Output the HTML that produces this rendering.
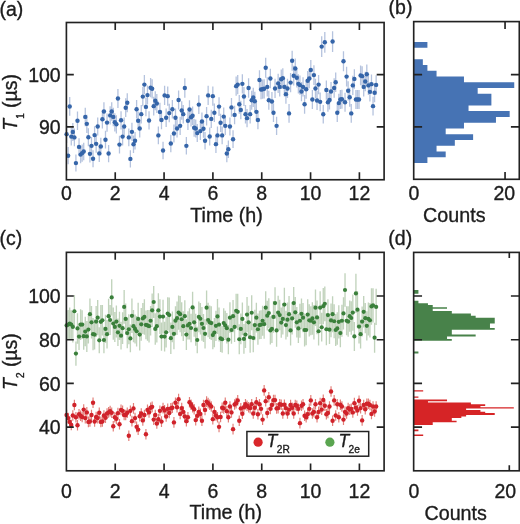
<!DOCTYPE html>
<html><head><meta charset="utf-8"><title>fig</title><style>html,body{margin:0;padding:0;background:#fff}svg{display:block}</style></head><body>
<svg width="520" height="524" viewBox="0 0 520 524" font-family="'Liberation Sans', Arial, sans-serif" fill="#222">
<style>text{stroke:#1c1c1c;stroke-width:0.35px;fill:#1c1c1c}</style>
<rect width="520" height="524" fill="#fff"/>
<g stroke="#b5c3de" stroke-width="1.3" stroke-linecap="butt">
<path d="M66.60 125.20v17.90M68.16 147.07v17.24M69.71 97.09v18.75M71.27 127.70v17.82M72.82 123.02v17.96M74.38 128.48v17.80M75.93 154.57v17.01M77.49 111.62v18.31M79.04 138.17v17.51M80.60 145.98v17.27M82.16 144.42v17.32M83.71 142.86v17.37M85.27 107.71v18.43M86.82 114.74v18.21M88.38 128.33v17.80M89.93 145.20v17.30M91.49 137.08v17.54M93.04 150.20v17.15M94.60 126.14v17.87M96.15 135.05v17.60M97.71 117.39v18.13M99.27 144.73v17.31M100.82 137.70v17.52M102.38 110.05v18.35M103.93 102.24v18.59M105.49 130.83v17.73M107.04 113.49v18.25M108.60 144.89v17.31M110.15 106.15v18.47M111.71 102.24v18.59M113.27 107.71v18.43M114.82 113.18v18.26M116.38 115.21v18.20M117.93 88.97v18.99M119.49 135.83v17.58M121.04 111.15v18.32M122.60 127.70v17.82M124.15 117.39v18.13M125.71 98.34v18.71M127.26 93.34v18.86M128.82 128.48v17.80M130.38 150.35v17.14M131.93 122.86v17.97M133.49 135.51v17.59M135.04 131.92v17.70M136.60 99.90v18.66M138.15 111.62v18.31M139.71 119.43v18.07M141.26 104.90v18.51M142.82 87.09v19.05M144.38 74.91v19.41M145.93 97.56v18.73M147.49 85.53v19.09M149.04 111.30v18.32M150.60 78.03v19.32M152.15 79.13v19.29M153.71 96.78v18.75M155.26 91.31v18.92M156.82 94.12v18.83M158.37 126.45v17.86M159.93 102.71v18.58M161.49 110.83v18.33M163.04 141.76v17.40M164.60 85.84v19.08M166.15 108.49v18.40M167.71 86.62v19.06M169.26 103.81v18.54M170.82 134.73v17.61M172.37 99.90v18.66M173.93 124.58v17.92M175.49 108.49v18.40M177.04 119.43v18.07M178.60 90.53v18.94M180.15 116.77v18.15M181.71 101.15v18.62M183.26 104.90v18.51M184.82 78.34v19.31M186.37 137.08v17.54M187.93 111.62v18.31M189.48 100.21v18.65M191.04 108.02v18.42M192.60 106.46v18.46M194.15 118.64v18.10M195.71 119.43v18.07M197.26 124.11v17.93M198.82 95.21v18.80M200.37 122.08v17.99M201.93 112.40v18.28M203.48 119.74v18.06M205.04 131.92v17.70M206.59 106.93v18.45M208.15 85.84v19.08M209.71 127.55v17.83M211.26 109.74v18.36M212.82 86.62v19.06M214.37 103.49v18.55M215.93 135.36v17.59M217.48 126.45v17.86M219.04 97.25v18.74M220.59 113.65v18.25M222.15 126.45v17.86M223.71 107.40v18.43M225.26 116.77v18.15M226.82 144.89v17.31M228.37 140.51v17.44M229.93 117.39v18.13M231.48 98.03v18.72M233.04 130.36v17.74M234.59 105.68v18.49M236.15 76.47v19.37M237.71 74.91v19.41M239.26 94.90v18.81M240.82 100.68v18.64M242.37 74.13v19.44M243.93 86.94v19.05M245.48 104.90v18.51M247.04 108.96v18.39M248.59 78.34v19.31M250.15 104.90v18.51M251.70 90.84v18.93M253.26 87.87v19.02M254.82 91.78v18.91M256.37 102.56v18.58M257.93 110.83v18.33M259.48 70.22v19.55M261.04 79.91v19.26M262.59 79.59v19.27M264.15 79.13v19.29M265.70 57.73v19.93M267.26 77.25v19.34M268.81 90.84v18.93M270.37 68.66v19.60M271.93 92.09v18.90M273.48 103.49v18.55M275.04 78.81v19.30M276.59 116.77v18.15M278.15 73.66v19.45M279.70 77.25v19.34M281.26 69.44v19.58M282.81 68.35v19.61M284.37 77.25v19.34M285.93 84.59v19.12M287.48 78.81v19.30M289.04 104.12v18.53M290.59 72.88v19.47M292.15 50.70v20.14M293.70 65.85v19.69M295.26 58.51v19.91M296.81 67.88v19.63M298.37 74.13v19.44M299.93 75.38v19.40M301.48 81.94v19.20M303.04 77.25v19.34M304.59 94.90v18.81M306.15 79.59v19.27M307.70 71.00v19.53M309.26 68.66v19.60M310.81 60.07v19.86M312.37 90.06v18.96M313.92 65.22v19.71M315.48 78.81v19.30M317.04 91.00v18.93M318.59 74.91v19.41M320.15 92.40v18.89M321.70 36.33v20.58M323.26 105.06v18.51M324.81 31.95v20.71M326.37 80.38v19.25M327.92 92.87v18.87M329.48 90.53v18.94M331.03 81.94v19.20M332.59 31.17v20.73M334.15 78.34v19.31M335.70 72.57v19.48M337.26 103.49v18.55M338.81 93.65v18.85M340.37 90.06v18.96M341.92 89.75v18.97M343.48 51.17v20.13M345.03 92.87v18.87M346.59 66.79v19.66M348.15 81.16v19.23M349.70 87.72v19.03M351.26 104.12v18.53M352.81 75.69v19.39M354.37 69.13v19.59M355.92 90.06v18.96M357.48 90.06v18.96M359.03 90.06v18.96M360.59 65.54v19.70M362.14 66.32v19.67M363.70 77.25v19.34M365.26 71.78v19.51M366.81 64.44v19.73M368.37 75.69v19.39M369.92 82.25v19.19M371.48 74.44v19.43M373.03 96.78v18.75M374.59 83.19v19.16M376.14 75.22v19.40" fill="none"/>
</g>
<g fill="#3565a9">
<circle cx="66.60" cy="134.15" r="2.2"/>
<circle cx="68.16" cy="155.69" r="2.2"/>
<circle cx="69.71" cy="106.46" r="2.2"/>
<circle cx="71.27" cy="136.62" r="2.2"/>
<circle cx="72.82" cy="132.00" r="2.2"/>
<circle cx="74.38" cy="137.38" r="2.2"/>
<circle cx="75.93" cy="163.08" r="2.2"/>
<circle cx="77.49" cy="120.77" r="2.2"/>
<circle cx="79.04" cy="146.92" r="2.2"/>
<circle cx="80.60" cy="154.62" r="2.2"/>
<circle cx="82.16" cy="153.08" r="2.2"/>
<circle cx="83.71" cy="151.54" r="2.2"/>
<circle cx="85.27" cy="116.92" r="2.2"/>
<circle cx="86.82" cy="123.85" r="2.2"/>
<circle cx="88.38" cy="137.23" r="2.2"/>
<circle cx="89.93" cy="153.85" r="2.2"/>
<circle cx="91.49" cy="145.85" r="2.2"/>
<circle cx="93.04" cy="158.77" r="2.2"/>
<circle cx="94.60" cy="135.08" r="2.2"/>
<circle cx="96.15" cy="143.85" r="2.2"/>
<circle cx="97.71" cy="126.46" r="2.2"/>
<circle cx="99.27" cy="153.38" r="2.2"/>
<circle cx="100.82" cy="146.46" r="2.2"/>
<circle cx="102.38" cy="119.23" r="2.2"/>
<circle cx="103.93" cy="111.54" r="2.2"/>
<circle cx="105.49" cy="139.69" r="2.2"/>
<circle cx="107.04" cy="122.62" r="2.2"/>
<circle cx="108.60" cy="153.54" r="2.2"/>
<circle cx="110.15" cy="115.38" r="2.2"/>
<circle cx="111.71" cy="111.54" r="2.2"/>
<circle cx="113.27" cy="116.92" r="2.2"/>
<circle cx="114.82" cy="122.31" r="2.2"/>
<circle cx="116.38" cy="124.31" r="2.2"/>
<circle cx="117.93" cy="98.46" r="2.2"/>
<circle cx="119.49" cy="144.62" r="2.2"/>
<circle cx="121.04" cy="120.31" r="2.2"/>
<circle cx="122.60" cy="136.62" r="2.2"/>
<circle cx="124.15" cy="126.46" r="2.2"/>
<circle cx="125.71" cy="107.69" r="2.2"/>
<circle cx="127.26" cy="102.77" r="2.2"/>
<circle cx="128.82" cy="137.38" r="2.2"/>
<circle cx="130.38" cy="158.92" r="2.2"/>
<circle cx="131.93" cy="131.85" r="2.2"/>
<circle cx="133.49" cy="144.31" r="2.2"/>
<circle cx="135.04" cy="140.77" r="2.2"/>
<circle cx="136.60" cy="109.23" r="2.2"/>
<circle cx="138.15" cy="120.77" r="2.2"/>
<circle cx="139.71" cy="128.46" r="2.2"/>
<circle cx="141.26" cy="114.15" r="2.2"/>
<circle cx="142.82" cy="96.62" r="2.2"/>
<circle cx="144.38" cy="84.62" r="2.2"/>
<circle cx="145.93" cy="106.92" r="2.2"/>
<circle cx="147.49" cy="95.08" r="2.2"/>
<circle cx="149.04" cy="120.46" r="2.2"/>
<circle cx="150.60" cy="87.69" r="2.2"/>
<circle cx="152.15" cy="88.77" r="2.2"/>
<circle cx="153.71" cy="106.15" r="2.2"/>
<circle cx="155.26" cy="100.77" r="2.2"/>
<circle cx="156.82" cy="103.54" r="2.2"/>
<circle cx="158.37" cy="135.38" r="2.2"/>
<circle cx="159.93" cy="112.00" r="2.2"/>
<circle cx="161.49" cy="120.00" r="2.2"/>
<circle cx="163.04" cy="150.46" r="2.2"/>
<circle cx="164.60" cy="95.38" r="2.2"/>
<circle cx="166.15" cy="117.69" r="2.2"/>
<circle cx="167.71" cy="96.15" r="2.2"/>
<circle cx="169.26" cy="113.08" r="2.2"/>
<circle cx="170.82" cy="143.54" r="2.2"/>
<circle cx="172.37" cy="109.23" r="2.2"/>
<circle cx="173.93" cy="133.54" r="2.2"/>
<circle cx="175.49" cy="117.69" r="2.2"/>
<circle cx="177.04" cy="128.46" r="2.2"/>
<circle cx="178.60" cy="100.00" r="2.2"/>
<circle cx="180.15" cy="125.85" r="2.2"/>
<circle cx="181.71" cy="110.46" r="2.2"/>
<circle cx="183.26" cy="114.15" r="2.2"/>
<circle cx="184.82" cy="88.00" r="2.2"/>
<circle cx="186.37" cy="145.85" r="2.2"/>
<circle cx="187.93" cy="120.77" r="2.2"/>
<circle cx="189.48" cy="109.54" r="2.2"/>
<circle cx="191.04" cy="117.23" r="2.2"/>
<circle cx="192.60" cy="115.69" r="2.2"/>
<circle cx="194.15" cy="127.69" r="2.2"/>
<circle cx="195.71" cy="128.46" r="2.2"/>
<circle cx="197.26" cy="133.08" r="2.2"/>
<circle cx="198.82" cy="104.62" r="2.2"/>
<circle cx="200.37" cy="131.08" r="2.2"/>
<circle cx="201.93" cy="121.54" r="2.2"/>
<circle cx="203.48" cy="128.77" r="2.2"/>
<circle cx="205.04" cy="140.77" r="2.2"/>
<circle cx="206.59" cy="116.15" r="2.2"/>
<circle cx="208.15" cy="95.38" r="2.2"/>
<circle cx="209.71" cy="136.46" r="2.2"/>
<circle cx="211.26" cy="118.92" r="2.2"/>
<circle cx="212.82" cy="96.15" r="2.2"/>
<circle cx="214.37" cy="112.77" r="2.2"/>
<circle cx="215.93" cy="144.15" r="2.2"/>
<circle cx="217.48" cy="135.38" r="2.2"/>
<circle cx="219.04" cy="106.62" r="2.2"/>
<circle cx="220.59" cy="122.77" r="2.2"/>
<circle cx="222.15" cy="135.38" r="2.2"/>
<circle cx="223.71" cy="116.62" r="2.2"/>
<circle cx="225.26" cy="125.85" r="2.2"/>
<circle cx="226.82" cy="153.54" r="2.2"/>
<circle cx="228.37" cy="149.23" r="2.2"/>
<circle cx="229.93" cy="126.46" r="2.2"/>
<circle cx="231.48" cy="107.38" r="2.2"/>
<circle cx="233.04" cy="139.23" r="2.2"/>
<circle cx="234.59" cy="114.92" r="2.2"/>
<circle cx="236.15" cy="86.15" r="2.2"/>
<circle cx="237.71" cy="84.62" r="2.2"/>
<circle cx="239.26" cy="104.31" r="2.2"/>
<circle cx="240.82" cy="110.00" r="2.2"/>
<circle cx="242.37" cy="83.85" r="2.2"/>
<circle cx="243.93" cy="96.46" r="2.2"/>
<circle cx="245.48" cy="114.15" r="2.2"/>
<circle cx="247.04" cy="118.15" r="2.2"/>
<circle cx="248.59" cy="88.00" r="2.2"/>
<circle cx="250.15" cy="114.15" r="2.2"/>
<circle cx="251.70" cy="100.31" r="2.2"/>
<circle cx="253.26" cy="97.38" r="2.2"/>
<circle cx="254.82" cy="101.23" r="2.2"/>
<circle cx="256.37" cy="111.85" r="2.2"/>
<circle cx="257.93" cy="120.00" r="2.2"/>
<circle cx="259.48" cy="80.00" r="2.2"/>
<circle cx="261.04" cy="89.54" r="2.2"/>
<circle cx="262.59" cy="89.23" r="2.2"/>
<circle cx="264.15" cy="88.77" r="2.2"/>
<circle cx="265.70" cy="67.69" r="2.2"/>
<circle cx="267.26" cy="86.92" r="2.2"/>
<circle cx="268.81" cy="100.31" r="2.2"/>
<circle cx="270.37" cy="78.46" r="2.2"/>
<circle cx="271.93" cy="101.54" r="2.2"/>
<circle cx="273.48" cy="112.77" r="2.2"/>
<circle cx="275.04" cy="88.46" r="2.2"/>
<circle cx="276.59" cy="125.85" r="2.2"/>
<circle cx="278.15" cy="83.38" r="2.2"/>
<circle cx="279.70" cy="86.92" r="2.2"/>
<circle cx="281.26" cy="79.23" r="2.2"/>
<circle cx="282.81" cy="78.15" r="2.2"/>
<circle cx="284.37" cy="86.92" r="2.2"/>
<circle cx="285.93" cy="94.15" r="2.2"/>
<circle cx="287.48" cy="88.46" r="2.2"/>
<circle cx="289.04" cy="113.38" r="2.2"/>
<circle cx="290.59" cy="82.62" r="2.2"/>
<circle cx="292.15" cy="60.77" r="2.2"/>
<circle cx="293.70" cy="75.69" r="2.2"/>
<circle cx="295.26" cy="68.46" r="2.2"/>
<circle cx="296.81" cy="77.69" r="2.2"/>
<circle cx="298.37" cy="83.85" r="2.2"/>
<circle cx="299.93" cy="85.08" r="2.2"/>
<circle cx="301.48" cy="91.54" r="2.2"/>
<circle cx="303.04" cy="86.92" r="2.2"/>
<circle cx="304.59" cy="104.31" r="2.2"/>
<circle cx="306.15" cy="89.23" r="2.2"/>
<circle cx="307.70" cy="80.77" r="2.2"/>
<circle cx="309.26" cy="78.46" r="2.2"/>
<circle cx="310.81" cy="70.00" r="2.2"/>
<circle cx="312.37" cy="99.54" r="2.2"/>
<circle cx="313.92" cy="75.08" r="2.2"/>
<circle cx="315.48" cy="88.46" r="2.2"/>
<circle cx="317.04" cy="100.46" r="2.2"/>
<circle cx="318.59" cy="84.62" r="2.2"/>
<circle cx="320.15" cy="101.85" r="2.2"/>
<circle cx="321.70" cy="46.62" r="2.2"/>
<circle cx="323.26" cy="114.31" r="2.2"/>
<circle cx="324.81" cy="42.31" r="2.2"/>
<circle cx="326.37" cy="90.00" r="2.2"/>
<circle cx="327.92" cy="102.31" r="2.2"/>
<circle cx="329.48" cy="100.00" r="2.2"/>
<circle cx="331.03" cy="91.54" r="2.2"/>
<circle cx="332.59" cy="41.54" r="2.2"/>
<circle cx="334.15" cy="88.00" r="2.2"/>
<circle cx="335.70" cy="82.31" r="2.2"/>
<circle cx="337.26" cy="112.77" r="2.2"/>
<circle cx="338.81" cy="103.08" r="2.2"/>
<circle cx="340.37" cy="99.54" r="2.2"/>
<circle cx="341.92" cy="99.23" r="2.2"/>
<circle cx="343.48" cy="61.23" r="2.2"/>
<circle cx="345.03" cy="102.31" r="2.2"/>
<circle cx="346.59" cy="76.62" r="2.2"/>
<circle cx="348.15" cy="90.77" r="2.2"/>
<circle cx="349.70" cy="97.23" r="2.2"/>
<circle cx="351.26" cy="113.38" r="2.2"/>
<circle cx="352.81" cy="85.38" r="2.2"/>
<circle cx="354.37" cy="78.92" r="2.2"/>
<circle cx="355.92" cy="99.54" r="2.2"/>
<circle cx="357.48" cy="99.54" r="2.2"/>
<circle cx="359.03" cy="99.54" r="2.2"/>
<circle cx="360.59" cy="75.38" r="2.2"/>
<circle cx="362.14" cy="76.15" r="2.2"/>
<circle cx="363.70" cy="86.92" r="2.2"/>
<circle cx="365.26" cy="81.54" r="2.2"/>
<circle cx="366.81" cy="74.31" r="2.2"/>
<circle cx="368.37" cy="85.38" r="2.2"/>
<circle cx="369.92" cy="91.85" r="2.2"/>
<circle cx="371.48" cy="84.15" r="2.2"/>
<circle cx="373.03" cy="106.15" r="2.2"/>
<circle cx="374.59" cy="92.77" r="2.2"/>
<circle cx="376.14" cy="84.92" r="2.2"/>
</g>
<g stroke="#c1d3bc" stroke-width="1.35" stroke-linecap="butt">
<path d="M66.60 310.38v30.02M68.16 310.07v29.09M69.71 307.38v32.31M71.27 310.31v28.61M72.82 311.40v31.05M74.38 294.96v32.54M75.93 341.45v24.18M77.49 313.15v30.62M79.04 323.31v26.60M80.60 309.21v30.81M82.16 310.32v28.59M83.71 322.67v26.97M85.27 316.72v29.63M86.82 320.90v31.13M88.38 315.45v28.17M89.93 298.58v31.15M91.49 306.12v32.38M93.04 318.04v32.23M94.60 319.61v30.01M96.15 306.00v31.08M97.71 300.01v35.36M99.27 327.26v26.10M100.82 304.90v33.88M102.38 305.00v30.61M103.93 326.65v26.69M105.49 314.81v28.23M107.04 319.89v28.54M108.60 298.85v34.61M110.15 305.01v29.98M111.71 279.26v36.26M113.27 307.42v32.24M114.82 311.89v30.07M116.38 305.53v32.01M117.93 318.61v27.39M119.49 311.67v28.35M121.04 321.84v27.71M122.60 312.30v31.71M124.15 290.10v33.64M125.71 303.43v30.98M127.26 317.92v30.32M128.82 314.14v30.18M130.38 324.56v27.81M131.93 298.58v34.53M133.49 310.07v32.16M135.04 314.43v28.98M136.60 315.95v30.56M138.15 302.77v32.31M139.71 318.75v31.73M141.26 307.98v32.66M142.82 303.02v30.89M144.38 299.16v35.52M145.93 310.50v28.84M147.49 310.09v30.59M149.04 309.90v32.51M150.60 305.93v29.68M152.15 293.56v33.49M153.71 286.11v31.79M155.26 313.17v31.51M156.82 309.88v32.56M158.37 293.29v34.04M159.93 299.16v34.91M161.49 322.53v28.18M163.04 299.73v33.77M164.60 321.73v29.78M166.15 317.10v30.41M167.71 297.16v32.75M169.26 297.60v34.95M170.82 322.40v31.50M172.37 311.58v30.68M173.93 318.52v30.65M175.49 306.21v29.11M177.04 301.38v33.54M178.60 295.55v34.14M180.15 296.10v36.10M181.71 302.17v34.11M183.26 311.32v29.66M184.82 300.22v31.88M186.37 319.34v30.54M187.93 311.29v28.19M189.48 308.29v31.10M191.04 313.66v28.67M192.60 291.63v31.50M194.15 307.87v28.87M195.71 313.71v31.97M197.26 326.70v26.61M198.82 301.48v30.88M200.37 303.02v31.49M201.93 307.04v33.61M203.48 313.93v28.15M205.04 319.15v29.40M206.59 290.53v34.32M208.15 302.82v34.36M209.71 305.53v33.56M211.26 306.23v33.70M212.82 320.97v28.22M214.37 317.91v29.40M215.93 310.77v30.16M217.48 298.97v34.99M219.04 307.62v34.00M220.59 324.98v26.97M222.15 325.74v26.99M223.71 308.17v29.82M225.26 310.65v29.47M226.82 312.88v30.54M228.37 325.08v29.23M229.93 302.27v30.85M231.48 316.30v27.39M233.04 300.11v32.09M234.59 311.90v30.05M236.15 293.81v33.92M237.71 293.72v36.26M239.26 324.29v29.88M240.82 313.62v30.60M242.37 302.48v32.89M243.93 324.00v29.85M245.48 321.12v27.00M247.04 296.91v35.42M248.59 305.65v33.32M250.15 321.60v31.27M251.70 295.23v35.09M253.26 323.80v28.40M254.82 309.82v30.52M256.37 302.77v29.85M257.93 313.60v31.25M259.48 310.84v28.48M261.04 310.33v28.58M262.59 305.75v30.03M264.15 309.54v29.23M265.70 291.23v32.93M267.26 300.78v29.83M268.81 298.14v29.88M270.37 316.37v28.19M271.93 314.86v28.13M273.48 301.12v31.61M275.04 287.31v31.54M276.59 314.23v32.46M278.15 295.65v33.92M279.70 299.81v30.53M281.26 307.61v30.02M282.81 303.33v31.19M284.37 287.82v33.59M285.93 310.65v28.85M287.48 302.59v34.20M289.04 296.10v36.10M290.59 315.44v30.05M292.15 302.40v32.12M293.70 287.10v31.94M295.26 296.98v30.66M296.81 307.00v30.62M298.37 313.87v29.18M299.93 303.83v33.89M301.48 298.44v30.80M303.04 303.02v29.34M304.59 313.50v33.00M306.15 314.75v30.49M307.70 299.32v30.59M309.26 304.21v32.19M310.81 306.32v28.91M312.37 302.26v32.40M313.92 305.04v34.54M315.48 289.49v36.40M317.04 300.56v33.64M318.59 316.87v28.72M320.15 291.14v33.11M321.70 312.84v28.78M323.26 288.12v36.06M324.81 286.42v34.85M326.37 313.17v32.11M327.92 299.23v31.69M329.48 315.32v28.74M331.03 303.54v33.83M332.59 296.13v36.05M334.15 304.25v33.95M335.70 313.93v32.14M337.26 312.22v32.48M338.81 305.27v33.15M340.37 318.96v28.23M341.92 304.79v31.95M343.48 297.32v32.13M345.03 273.24v33.51M346.59 306.31v28.91M348.15 306.36v30.35M349.70 300.62v31.07M351.26 301.24v33.51M352.81 294.54v36.14M354.37 321.98v28.96M355.92 273.66v39.45M357.48 291.26v36.87M359.03 309.80v33.63M360.59 319.72v28.86M362.14 306.54v29.99M363.70 296.08v31.54M365.26 302.97v30.36M366.81 311.24v29.22M368.37 302.46v32.93M369.92 303.10v34.41M371.48 288.23v36.47M373.03 288.27v34.24M374.59 322.73v29.93M376.14 288.87v36.12" fill="none"/>
</g>
<g fill="#3a803b">
<circle cx="66.60" cy="325.38" r="2.1"/>
<circle cx="68.16" cy="324.62" r="2.1"/>
<circle cx="69.71" cy="323.54" r="2.1"/>
<circle cx="71.27" cy="324.62" r="2.1"/>
<circle cx="72.82" cy="326.92" r="2.1"/>
<circle cx="74.38" cy="311.23" r="2.1"/>
<circle cx="75.93" cy="353.54" r="2.1"/>
<circle cx="77.49" cy="328.46" r="2.1"/>
<circle cx="79.04" cy="336.62" r="2.1"/>
<circle cx="80.60" cy="324.62" r="2.1"/>
<circle cx="82.16" cy="324.62" r="2.1"/>
<circle cx="83.71" cy="336.15" r="2.1"/>
<circle cx="85.27" cy="331.54" r="2.1"/>
<circle cx="86.82" cy="336.46" r="2.1"/>
<circle cx="88.38" cy="329.54" r="2.1"/>
<circle cx="89.93" cy="314.15" r="2.1"/>
<circle cx="91.49" cy="322.31" r="2.1"/>
<circle cx="93.04" cy="334.15" r="2.1"/>
<circle cx="94.60" cy="334.62" r="2.1"/>
<circle cx="96.15" cy="321.54" r="2.1"/>
<circle cx="97.71" cy="317.69" r="2.1"/>
<circle cx="99.27" cy="340.31" r="2.1"/>
<circle cx="100.82" cy="321.85" r="2.1"/>
<circle cx="102.38" cy="320.31" r="2.1"/>
<circle cx="103.93" cy="340.00" r="2.1"/>
<circle cx="105.49" cy="328.92" r="2.1"/>
<circle cx="107.04" cy="334.15" r="2.1"/>
<circle cx="108.60" cy="316.15" r="2.1"/>
<circle cx="110.15" cy="320.00" r="2.1"/>
<circle cx="111.71" cy="297.38" r="2.1"/>
<circle cx="113.27" cy="323.54" r="2.1"/>
<circle cx="114.82" cy="326.92" r="2.1"/>
<circle cx="116.38" cy="321.54" r="2.1"/>
<circle cx="117.93" cy="332.31" r="2.1"/>
<circle cx="119.49" cy="325.85" r="2.1"/>
<circle cx="121.04" cy="335.69" r="2.1"/>
<circle cx="122.60" cy="328.15" r="2.1"/>
<circle cx="124.15" cy="306.92" r="2.1"/>
<circle cx="125.71" cy="318.92" r="2.1"/>
<circle cx="127.26" cy="333.08" r="2.1"/>
<circle cx="128.82" cy="329.23" r="2.1"/>
<circle cx="130.38" cy="338.46" r="2.1"/>
<circle cx="131.93" cy="315.85" r="2.1"/>
<circle cx="133.49" cy="326.15" r="2.1"/>
<circle cx="135.04" cy="328.92" r="2.1"/>
<circle cx="136.60" cy="331.23" r="2.1"/>
<circle cx="138.15" cy="318.92" r="2.1"/>
<circle cx="139.71" cy="334.62" r="2.1"/>
<circle cx="141.26" cy="324.31" r="2.1"/>
<circle cx="142.82" cy="318.46" r="2.1"/>
<circle cx="144.38" cy="316.92" r="2.1"/>
<circle cx="145.93" cy="324.92" r="2.1"/>
<circle cx="147.49" cy="325.38" r="2.1"/>
<circle cx="149.04" cy="326.15" r="2.1"/>
<circle cx="150.60" cy="320.77" r="2.1"/>
<circle cx="152.15" cy="310.31" r="2.1"/>
<circle cx="153.71" cy="302.00" r="2.1"/>
<circle cx="155.26" cy="328.92" r="2.1"/>
<circle cx="156.82" cy="326.15" r="2.1"/>
<circle cx="158.37" cy="310.31" r="2.1"/>
<circle cx="159.93" cy="316.62" r="2.1"/>
<circle cx="161.49" cy="336.62" r="2.1"/>
<circle cx="163.04" cy="316.62" r="2.1"/>
<circle cx="164.60" cy="336.62" r="2.1"/>
<circle cx="166.15" cy="332.31" r="2.1"/>
<circle cx="167.71" cy="313.54" r="2.1"/>
<circle cx="169.26" cy="315.08" r="2.1"/>
<circle cx="170.82" cy="338.15" r="2.1"/>
<circle cx="172.37" cy="326.92" r="2.1"/>
<circle cx="173.93" cy="333.85" r="2.1"/>
<circle cx="175.49" cy="320.77" r="2.1"/>
<circle cx="177.04" cy="318.15" r="2.1"/>
<circle cx="178.60" cy="312.62" r="2.1"/>
<circle cx="180.15" cy="314.15" r="2.1"/>
<circle cx="181.71" cy="319.23" r="2.1"/>
<circle cx="183.26" cy="326.15" r="2.1"/>
<circle cx="184.82" cy="316.15" r="2.1"/>
<circle cx="186.37" cy="334.62" r="2.1"/>
<circle cx="187.93" cy="325.38" r="2.1"/>
<circle cx="189.48" cy="323.85" r="2.1"/>
<circle cx="191.04" cy="328.00" r="2.1"/>
<circle cx="192.60" cy="307.38" r="2.1"/>
<circle cx="194.15" cy="322.31" r="2.1"/>
<circle cx="195.71" cy="329.69" r="2.1"/>
<circle cx="197.26" cy="340.00" r="2.1"/>
<circle cx="198.82" cy="316.92" r="2.1"/>
<circle cx="200.37" cy="318.77" r="2.1"/>
<circle cx="201.93" cy="323.85" r="2.1"/>
<circle cx="203.48" cy="328.00" r="2.1"/>
<circle cx="205.04" cy="333.85" r="2.1"/>
<circle cx="206.59" cy="307.69" r="2.1"/>
<circle cx="208.15" cy="320.00" r="2.1"/>
<circle cx="209.71" cy="322.31" r="2.1"/>
<circle cx="211.26" cy="323.08" r="2.1"/>
<circle cx="212.82" cy="335.08" r="2.1"/>
<circle cx="214.37" cy="332.62" r="2.1"/>
<circle cx="215.93" cy="325.85" r="2.1"/>
<circle cx="217.48" cy="316.46" r="2.1"/>
<circle cx="219.04" cy="324.62" r="2.1"/>
<circle cx="220.59" cy="338.46" r="2.1"/>
<circle cx="222.15" cy="339.23" r="2.1"/>
<circle cx="223.71" cy="323.08" r="2.1"/>
<circle cx="225.26" cy="325.38" r="2.1"/>
<circle cx="226.82" cy="328.15" r="2.1"/>
<circle cx="228.37" cy="339.69" r="2.1"/>
<circle cx="229.93" cy="317.69" r="2.1"/>
<circle cx="231.48" cy="330.00" r="2.1"/>
<circle cx="233.04" cy="316.15" r="2.1"/>
<circle cx="234.59" cy="326.92" r="2.1"/>
<circle cx="236.15" cy="310.77" r="2.1"/>
<circle cx="237.71" cy="311.85" r="2.1"/>
<circle cx="239.26" cy="339.23" r="2.1"/>
<circle cx="240.82" cy="328.92" r="2.1"/>
<circle cx="242.37" cy="318.92" r="2.1"/>
<circle cx="243.93" cy="338.92" r="2.1"/>
<circle cx="245.48" cy="334.62" r="2.1"/>
<circle cx="247.04" cy="314.62" r="2.1"/>
<circle cx="248.59" cy="322.31" r="2.1"/>
<circle cx="250.15" cy="337.23" r="2.1"/>
<circle cx="251.70" cy="312.77" r="2.1"/>
<circle cx="253.26" cy="338.00" r="2.1"/>
<circle cx="254.82" cy="325.08" r="2.1"/>
<circle cx="256.37" cy="317.69" r="2.1"/>
<circle cx="257.93" cy="329.23" r="2.1"/>
<circle cx="259.48" cy="325.08" r="2.1"/>
<circle cx="261.04" cy="324.62" r="2.1"/>
<circle cx="262.59" cy="320.77" r="2.1"/>
<circle cx="264.15" cy="324.15" r="2.1"/>
<circle cx="265.70" cy="307.69" r="2.1"/>
<circle cx="267.26" cy="315.69" r="2.1"/>
<circle cx="268.81" cy="313.08" r="2.1"/>
<circle cx="270.37" cy="330.46" r="2.1"/>
<circle cx="271.93" cy="328.92" r="2.1"/>
<circle cx="273.48" cy="316.92" r="2.1"/>
<circle cx="275.04" cy="303.08" r="2.1"/>
<circle cx="276.59" cy="330.46" r="2.1"/>
<circle cx="278.15" cy="312.62" r="2.1"/>
<circle cx="279.70" cy="315.08" r="2.1"/>
<circle cx="281.26" cy="322.62" r="2.1"/>
<circle cx="282.81" cy="318.92" r="2.1"/>
<circle cx="284.37" cy="304.62" r="2.1"/>
<circle cx="285.93" cy="325.08" r="2.1"/>
<circle cx="287.48" cy="319.69" r="2.1"/>
<circle cx="289.04" cy="314.15" r="2.1"/>
<circle cx="290.59" cy="330.46" r="2.1"/>
<circle cx="292.15" cy="318.46" r="2.1"/>
<circle cx="293.70" cy="303.08" r="2.1"/>
<circle cx="295.26" cy="312.31" r="2.1"/>
<circle cx="296.81" cy="322.31" r="2.1"/>
<circle cx="298.37" cy="328.46" r="2.1"/>
<circle cx="299.93" cy="320.77" r="2.1"/>
<circle cx="301.48" cy="313.85" r="2.1"/>
<circle cx="303.04" cy="317.69" r="2.1"/>
<circle cx="304.59" cy="330.00" r="2.1"/>
<circle cx="306.15" cy="330.00" r="2.1"/>
<circle cx="307.70" cy="314.62" r="2.1"/>
<circle cx="309.26" cy="320.31" r="2.1"/>
<circle cx="310.81" cy="320.77" r="2.1"/>
<circle cx="312.37" cy="318.46" r="2.1"/>
<circle cx="313.92" cy="322.31" r="2.1"/>
<circle cx="315.48" cy="307.69" r="2.1"/>
<circle cx="317.04" cy="317.38" r="2.1"/>
<circle cx="318.59" cy="331.23" r="2.1"/>
<circle cx="320.15" cy="307.69" r="2.1"/>
<circle cx="321.70" cy="327.23" r="2.1"/>
<circle cx="323.26" cy="306.15" r="2.1"/>
<circle cx="324.81" cy="303.85" r="2.1"/>
<circle cx="326.37" cy="329.23" r="2.1"/>
<circle cx="327.92" cy="315.08" r="2.1"/>
<circle cx="329.48" cy="329.69" r="2.1"/>
<circle cx="331.03" cy="320.46" r="2.1"/>
<circle cx="332.59" cy="314.15" r="2.1"/>
<circle cx="334.15" cy="321.23" r="2.1"/>
<circle cx="335.70" cy="330.00" r="2.1"/>
<circle cx="337.26" cy="328.46" r="2.1"/>
<circle cx="338.81" cy="321.85" r="2.1"/>
<circle cx="340.37" cy="333.08" r="2.1"/>
<circle cx="341.92" cy="320.77" r="2.1"/>
<circle cx="343.48" cy="313.38" r="2.1"/>
<circle cx="345.03" cy="290.00" r="2.1"/>
<circle cx="346.59" cy="320.77" r="2.1"/>
<circle cx="348.15" cy="321.54" r="2.1"/>
<circle cx="349.70" cy="316.15" r="2.1"/>
<circle cx="351.26" cy="318.00" r="2.1"/>
<circle cx="352.81" cy="312.62" r="2.1"/>
<circle cx="354.37" cy="336.46" r="2.1"/>
<circle cx="355.92" cy="293.38" r="2.1"/>
<circle cx="357.48" cy="309.69" r="2.1"/>
<circle cx="359.03" cy="326.62" r="2.1"/>
<circle cx="360.59" cy="334.15" r="2.1"/>
<circle cx="362.14" cy="321.54" r="2.1"/>
<circle cx="363.70" cy="311.85" r="2.1"/>
<circle cx="365.26" cy="318.15" r="2.1"/>
<circle cx="366.81" cy="325.85" r="2.1"/>
<circle cx="368.37" cy="318.92" r="2.1"/>
<circle cx="369.92" cy="320.31" r="2.1"/>
<circle cx="371.48" cy="306.46" r="2.1"/>
<circle cx="373.03" cy="305.38" r="2.1"/>
<circle cx="374.59" cy="337.69" r="2.1"/>
<circle cx="376.14" cy="306.92" r="2.1"/>
</g>
<g stroke="#e3807a" stroke-width="1.2" stroke-linecap="butt">
<path d="M66.60 409.70v10.60M68.16 412.78v10.60M69.71 416.62v10.60M71.27 419.70v10.60M72.82 410.16v10.60M74.38 399.70v10.60M75.93 412.01v10.60M77.49 420.01v10.60M79.04 408.93v10.60M80.60 410.47v10.60M82.16 411.70v10.60M83.71 404.32v10.60M85.27 412.78v10.60M86.82 407.08v10.60M88.38 416.62v10.60M89.93 416.16v10.60M91.49 409.70v10.60M93.04 397.39v10.60M94.60 416.16v10.60M96.15 411.70v10.60M97.71 412.78v10.60M99.27 407.39v10.60M100.82 416.62v10.60M102.38 416.16v10.60M103.93 410.16v10.60M105.49 412.47v10.60M107.04 408.16v10.60M108.60 407.08v10.60M110.15 405.85v10.60M111.71 407.39v10.60M113.27 420.93v10.60M114.82 412.01v10.60M116.38 413.55v10.60M117.93 407.85v10.60M119.49 418.93v10.60M121.04 404.62v10.60M122.60 405.55v10.60M124.15 409.70v10.60M125.71 409.70v10.60M127.26 407.39v10.60M128.82 430.47v10.60M130.38 405.55v10.60M131.93 415.85v10.60M133.49 403.08v10.60M135.04 412.78v10.60M136.60 421.55v10.60M138.15 424.32v10.60M139.71 410.93v10.60M141.26 408.16v10.60M142.82 415.08v10.60M144.38 409.70v10.60M145.93 428.93v10.60M147.49 404.62v10.60M149.04 407.08v10.60M150.60 402.47v10.60M152.15 401.55v10.60M153.71 414.32v10.60M155.26 409.70v10.60M156.82 418.16v10.60M158.37 413.85v10.60M159.93 405.55v10.60M161.49 416.32v10.60M163.04 402.78v10.60M164.60 405.08v10.60M166.15 411.24v10.60M167.71 403.55v10.60M169.26 407.70v10.60M170.82 403.08v10.60M172.37 402.47v10.60M173.93 417.08v10.60M175.49 397.39v10.60M177.04 402.01v10.60M178.60 393.85v10.60M180.15 408.62v10.60M181.71 402.78v10.60M183.26 406.62v10.60M184.82 411.24v10.60M186.37 415.85v10.60M187.93 412.01v10.60M189.48 396.93v10.60M191.04 399.39v10.60M192.60 402.01v10.60M194.15 404.01v10.60M195.71 414.78v10.60M197.26 410.47v10.60M198.82 406.62v10.60M200.37 408.62v10.60M201.93 415.39v10.60M203.48 399.70v10.60M205.04 404.62v10.60M206.59 396.32v10.60M208.15 397.85v10.60M209.71 399.39v10.60M211.26 401.24v10.60M212.82 413.85v10.60M214.37 406.62v10.60M215.93 410.16v10.60M217.48 412.01v10.60M219.04 421.55v10.60M220.59 411.70v10.60M222.15 402.47v10.60M223.71 403.08v10.60M225.26 397.39v10.60M226.82 405.85v10.60M228.37 412.01v10.60M229.93 401.24v10.60M231.48 407.08v10.60M233.04 423.85v10.60M234.59 399.24v10.60M236.15 397.85v10.60M237.71 395.08v10.60M239.26 415.39v10.60M240.82 403.08v10.60M242.37 408.47v10.60M243.93 402.01v10.60M245.48 398.93v10.60M247.04 400.47v10.60M248.59 402.01v10.60M250.15 402.78v10.60M251.70 398.93v10.60M253.26 408.16v10.60M254.82 402.47v10.60M256.37 396.93v10.60M257.93 408.93v10.60M259.48 398.93v10.60M261.04 403.55v10.60M262.59 414.32v10.60M264.15 385.08v10.60M265.70 395.85v10.60M267.26 407.70v10.60M268.81 392.01v10.60M270.37 403.55v10.60M271.93 399.70v10.60M273.48 394.78v10.60M275.04 394.78v10.60M276.59 403.08v10.60M278.15 402.78v10.60M279.70 398.93v10.60M281.26 399.39v10.60M282.81 408.16v10.60M284.37 399.39v10.60M285.93 402.78v10.60M287.48 408.16v10.60M289.04 404.32v10.60M290.59 399.70v10.60M292.15 402.47v10.60M293.70 408.16v10.60M295.26 399.70v10.60M296.81 400.47v10.60M298.37 403.55v10.60M299.93 417.85v10.60M301.48 400.47v10.60M303.04 398.93v10.60M304.59 410.47v10.60M306.15 412.01v10.60M307.70 408.93v10.60M309.26 403.55v10.60M310.81 395.08v10.60M312.37 408.16v10.60M313.92 406.62v10.60M315.48 398.93v10.60M317.04 412.01v10.60M318.59 406.62v10.60M320.15 397.85v10.60M321.70 404.32v10.60M323.26 394.62v10.60M324.81 400.47v10.60M326.37 408.93v10.60M327.92 407.70v10.60M329.48 401.24v10.60M331.03 386.16v10.60M332.59 415.39v10.60M334.15 395.08v10.60M335.70 410.16v10.60M337.26 398.93v10.60M338.81 412.01v10.60M340.37 399.39v10.60M341.92 401.24v10.60M343.48 414.32v10.60M345.03 406.62v10.60M346.59 408.16v10.60M348.15 402.78v10.60M349.70 404.32v10.60M351.26 403.55v10.60M352.81 407.08v10.60M354.37 397.85v10.60M355.92 402.47v10.60M357.48 405.08v10.60M359.03 395.39v10.60M360.59 402.78v10.60M362.14 415.08v10.60M363.70 399.70v10.60M365.26 404.01v10.60M366.81 398.47v10.60M368.37 398.47v10.60M369.92 399.70v10.60M371.48 408.62v10.60M373.03 401.24v10.60M374.59 406.16v10.60M376.14 401.24v10.60" fill="none"/>
</g>
<g fill="#d0222a">
<circle cx="66.60" cy="415.00" r="2.2"/>
<circle cx="68.16" cy="418.08" r="2.2"/>
<circle cx="69.71" cy="421.92" r="2.2"/>
<circle cx="71.27" cy="425.00" r="2.2"/>
<circle cx="72.82" cy="415.46" r="2.2"/>
<circle cx="74.38" cy="405.00" r="2.2"/>
<circle cx="75.93" cy="417.31" r="2.2"/>
<circle cx="77.49" cy="425.31" r="2.2"/>
<circle cx="79.04" cy="414.23" r="2.2"/>
<circle cx="80.60" cy="415.77" r="2.2"/>
<circle cx="82.16" cy="417.00" r="2.2"/>
<circle cx="83.71" cy="409.62" r="2.2"/>
<circle cx="85.27" cy="418.08" r="2.2"/>
<circle cx="86.82" cy="412.38" r="2.2"/>
<circle cx="88.38" cy="421.92" r="2.2"/>
<circle cx="89.93" cy="421.46" r="2.2"/>
<circle cx="91.49" cy="415.00" r="2.2"/>
<circle cx="93.04" cy="402.69" r="2.2"/>
<circle cx="94.60" cy="421.46" r="2.2"/>
<circle cx="96.15" cy="417.00" r="2.2"/>
<circle cx="97.71" cy="418.08" r="2.2"/>
<circle cx="99.27" cy="412.69" r="2.2"/>
<circle cx="100.82" cy="421.92" r="2.2"/>
<circle cx="102.38" cy="421.46" r="2.2"/>
<circle cx="103.93" cy="415.46" r="2.2"/>
<circle cx="105.49" cy="417.77" r="2.2"/>
<circle cx="107.04" cy="413.46" r="2.2"/>
<circle cx="108.60" cy="412.38" r="2.2"/>
<circle cx="110.15" cy="411.15" r="2.2"/>
<circle cx="111.71" cy="412.69" r="2.2"/>
<circle cx="113.27" cy="426.23" r="2.2"/>
<circle cx="114.82" cy="417.31" r="2.2"/>
<circle cx="116.38" cy="418.85" r="2.2"/>
<circle cx="117.93" cy="413.15" r="2.2"/>
<circle cx="119.49" cy="424.23" r="2.2"/>
<circle cx="121.04" cy="409.92" r="2.2"/>
<circle cx="122.60" cy="410.85" r="2.2"/>
<circle cx="124.15" cy="415.00" r="2.2"/>
<circle cx="125.71" cy="415.00" r="2.2"/>
<circle cx="127.26" cy="412.69" r="2.2"/>
<circle cx="128.82" cy="435.77" r="2.2"/>
<circle cx="130.38" cy="410.85" r="2.2"/>
<circle cx="131.93" cy="421.15" r="2.2"/>
<circle cx="133.49" cy="408.38" r="2.2"/>
<circle cx="135.04" cy="418.08" r="2.2"/>
<circle cx="136.60" cy="426.85" r="2.2"/>
<circle cx="138.15" cy="429.62" r="2.2"/>
<circle cx="139.71" cy="416.23" r="2.2"/>
<circle cx="141.26" cy="413.46" r="2.2"/>
<circle cx="142.82" cy="420.38" r="2.2"/>
<circle cx="144.38" cy="415.00" r="2.2"/>
<circle cx="145.93" cy="434.23" r="2.2"/>
<circle cx="147.49" cy="409.92" r="2.2"/>
<circle cx="149.04" cy="412.38" r="2.2"/>
<circle cx="150.60" cy="407.77" r="2.2"/>
<circle cx="152.15" cy="406.85" r="2.2"/>
<circle cx="153.71" cy="419.62" r="2.2"/>
<circle cx="155.26" cy="415.00" r="2.2"/>
<circle cx="156.82" cy="423.46" r="2.2"/>
<circle cx="158.37" cy="419.15" r="2.2"/>
<circle cx="159.93" cy="410.85" r="2.2"/>
<circle cx="161.49" cy="421.62" r="2.2"/>
<circle cx="163.04" cy="408.08" r="2.2"/>
<circle cx="164.60" cy="410.38" r="2.2"/>
<circle cx="166.15" cy="416.54" r="2.2"/>
<circle cx="167.71" cy="408.85" r="2.2"/>
<circle cx="169.26" cy="413.00" r="2.2"/>
<circle cx="170.82" cy="408.38" r="2.2"/>
<circle cx="172.37" cy="407.77" r="2.2"/>
<circle cx="173.93" cy="422.38" r="2.2"/>
<circle cx="175.49" cy="402.69" r="2.2"/>
<circle cx="177.04" cy="407.31" r="2.2"/>
<circle cx="178.60" cy="399.15" r="2.2"/>
<circle cx="180.15" cy="413.92" r="2.2"/>
<circle cx="181.71" cy="408.08" r="2.2"/>
<circle cx="183.26" cy="411.92" r="2.2"/>
<circle cx="184.82" cy="416.54" r="2.2"/>
<circle cx="186.37" cy="421.15" r="2.2"/>
<circle cx="187.93" cy="417.31" r="2.2"/>
<circle cx="189.48" cy="402.23" r="2.2"/>
<circle cx="191.04" cy="404.69" r="2.2"/>
<circle cx="192.60" cy="407.31" r="2.2"/>
<circle cx="194.15" cy="409.31" r="2.2"/>
<circle cx="195.71" cy="420.08" r="2.2"/>
<circle cx="197.26" cy="415.77" r="2.2"/>
<circle cx="198.82" cy="411.92" r="2.2"/>
<circle cx="200.37" cy="413.92" r="2.2"/>
<circle cx="201.93" cy="420.69" r="2.2"/>
<circle cx="203.48" cy="405.00" r="2.2"/>
<circle cx="205.04" cy="409.92" r="2.2"/>
<circle cx="206.59" cy="401.62" r="2.2"/>
<circle cx="208.15" cy="403.15" r="2.2"/>
<circle cx="209.71" cy="404.69" r="2.2"/>
<circle cx="211.26" cy="406.54" r="2.2"/>
<circle cx="212.82" cy="419.15" r="2.2"/>
<circle cx="214.37" cy="411.92" r="2.2"/>
<circle cx="215.93" cy="415.46" r="2.2"/>
<circle cx="217.48" cy="417.31" r="2.2"/>
<circle cx="219.04" cy="426.85" r="2.2"/>
<circle cx="220.59" cy="417.00" r="2.2"/>
<circle cx="222.15" cy="407.77" r="2.2"/>
<circle cx="223.71" cy="408.38" r="2.2"/>
<circle cx="225.26" cy="402.69" r="2.2"/>
<circle cx="226.82" cy="411.15" r="2.2"/>
<circle cx="228.37" cy="417.31" r="2.2"/>
<circle cx="229.93" cy="406.54" r="2.2"/>
<circle cx="231.48" cy="412.38" r="2.2"/>
<circle cx="233.04" cy="429.15" r="2.2"/>
<circle cx="234.59" cy="404.54" r="2.2"/>
<circle cx="236.15" cy="403.15" r="2.2"/>
<circle cx="237.71" cy="400.38" r="2.2"/>
<circle cx="239.26" cy="420.69" r="2.2"/>
<circle cx="240.82" cy="408.38" r="2.2"/>
<circle cx="242.37" cy="413.77" r="2.2"/>
<circle cx="243.93" cy="407.31" r="2.2"/>
<circle cx="245.48" cy="404.23" r="2.2"/>
<circle cx="247.04" cy="405.77" r="2.2"/>
<circle cx="248.59" cy="407.31" r="2.2"/>
<circle cx="250.15" cy="408.08" r="2.2"/>
<circle cx="251.70" cy="404.23" r="2.2"/>
<circle cx="253.26" cy="413.46" r="2.2"/>
<circle cx="254.82" cy="407.77" r="2.2"/>
<circle cx="256.37" cy="402.23" r="2.2"/>
<circle cx="257.93" cy="414.23" r="2.2"/>
<circle cx="259.48" cy="404.23" r="2.2"/>
<circle cx="261.04" cy="408.85" r="2.2"/>
<circle cx="262.59" cy="419.62" r="2.2"/>
<circle cx="264.15" cy="390.38" r="2.2"/>
<circle cx="265.70" cy="401.15" r="2.2"/>
<circle cx="267.26" cy="413.00" r="2.2"/>
<circle cx="268.81" cy="397.31" r="2.2"/>
<circle cx="270.37" cy="408.85" r="2.2"/>
<circle cx="271.93" cy="405.00" r="2.2"/>
<circle cx="273.48" cy="400.08" r="2.2"/>
<circle cx="275.04" cy="400.08" r="2.2"/>
<circle cx="276.59" cy="408.38" r="2.2"/>
<circle cx="278.15" cy="408.08" r="2.2"/>
<circle cx="279.70" cy="404.23" r="2.2"/>
<circle cx="281.26" cy="404.69" r="2.2"/>
<circle cx="282.81" cy="413.46" r="2.2"/>
<circle cx="284.37" cy="404.69" r="2.2"/>
<circle cx="285.93" cy="408.08" r="2.2"/>
<circle cx="287.48" cy="413.46" r="2.2"/>
<circle cx="289.04" cy="409.62" r="2.2"/>
<circle cx="290.59" cy="405.00" r="2.2"/>
<circle cx="292.15" cy="407.77" r="2.2"/>
<circle cx="293.70" cy="413.46" r="2.2"/>
<circle cx="295.26" cy="405.00" r="2.2"/>
<circle cx="296.81" cy="405.77" r="2.2"/>
<circle cx="298.37" cy="408.85" r="2.2"/>
<circle cx="299.93" cy="423.15" r="2.2"/>
<circle cx="301.48" cy="405.77" r="2.2"/>
<circle cx="303.04" cy="404.23" r="2.2"/>
<circle cx="304.59" cy="415.77" r="2.2"/>
<circle cx="306.15" cy="417.31" r="2.2"/>
<circle cx="307.70" cy="414.23" r="2.2"/>
<circle cx="309.26" cy="408.85" r="2.2"/>
<circle cx="310.81" cy="400.38" r="2.2"/>
<circle cx="312.37" cy="413.46" r="2.2"/>
<circle cx="313.92" cy="411.92" r="2.2"/>
<circle cx="315.48" cy="404.23" r="2.2"/>
<circle cx="317.04" cy="417.31" r="2.2"/>
<circle cx="318.59" cy="411.92" r="2.2"/>
<circle cx="320.15" cy="403.15" r="2.2"/>
<circle cx="321.70" cy="409.62" r="2.2"/>
<circle cx="323.26" cy="399.92" r="2.2"/>
<circle cx="324.81" cy="405.77" r="2.2"/>
<circle cx="326.37" cy="414.23" r="2.2"/>
<circle cx="327.92" cy="413.00" r="2.2"/>
<circle cx="329.48" cy="406.54" r="2.2"/>
<circle cx="331.03" cy="391.46" r="2.2"/>
<circle cx="332.59" cy="420.69" r="2.2"/>
<circle cx="334.15" cy="400.38" r="2.2"/>
<circle cx="335.70" cy="415.46" r="2.2"/>
<circle cx="337.26" cy="404.23" r="2.2"/>
<circle cx="338.81" cy="417.31" r="2.2"/>
<circle cx="340.37" cy="404.69" r="2.2"/>
<circle cx="341.92" cy="406.54" r="2.2"/>
<circle cx="343.48" cy="419.62" r="2.2"/>
<circle cx="345.03" cy="411.92" r="2.2"/>
<circle cx="346.59" cy="413.46" r="2.2"/>
<circle cx="348.15" cy="408.08" r="2.2"/>
<circle cx="349.70" cy="409.62" r="2.2"/>
<circle cx="351.26" cy="408.85" r="2.2"/>
<circle cx="352.81" cy="412.38" r="2.2"/>
<circle cx="354.37" cy="403.15" r="2.2"/>
<circle cx="355.92" cy="407.77" r="2.2"/>
<circle cx="357.48" cy="410.38" r="2.2"/>
<circle cx="359.03" cy="400.69" r="2.2"/>
<circle cx="360.59" cy="408.08" r="2.2"/>
<circle cx="362.14" cy="420.38" r="2.2"/>
<circle cx="363.70" cy="405.00" r="2.2"/>
<circle cx="365.26" cy="409.31" r="2.2"/>
<circle cx="366.81" cy="403.77" r="2.2"/>
<circle cx="368.37" cy="403.77" r="2.2"/>
<circle cx="369.92" cy="405.00" r="2.2"/>
<circle cx="371.48" cy="413.92" r="2.2"/>
<circle cx="373.03" cy="406.54" r="2.2"/>
<circle cx="374.59" cy="411.46" r="2.2"/>
<circle cx="376.14" cy="406.54" r="2.2"/>
</g>
<path d="M413.7 42.00h13.71v5.78h-13.71zM413.7 59.28h9.14v5.78h-9.14zM413.7 65.04h13.71v5.78h-13.71zM413.7 70.80h22.85v5.78h-22.85zM413.7 76.56h50.27v5.78h-50.27zM413.7 82.32h100.54v5.78h-100.54zM413.7 88.08h63.98v5.78h-63.98zM413.7 93.84h77.69v5.78h-77.69zM413.7 99.60h77.69v5.78h-77.69zM413.7 105.36h54.84v5.78h-54.84zM413.7 111.12h95.97v5.78h-95.97zM413.7 116.88h82.26v5.78h-82.26zM413.7 122.64h50.27v5.78h-50.27zM413.7 128.40h31.99v5.78h-31.99zM413.7 134.16h59.41v5.78h-59.41zM413.7 139.92h41.13v5.78h-41.13zM413.7 145.68h22.85v5.78h-22.85zM413.7 151.44h31.99v5.78h-31.99zM413.7 157.20h13.71v5.78h-13.71z" fill="#4673b4"/>
<path d="M413.65 290.00h4.77v3.85h-4.77zM413.65 300.80h4.77v2.55h-4.77zM413.65 303.30h14.31v1.75h-14.31zM413.65 305.00h19.08v2.35h-19.08zM413.65 307.30h33.39v1.55h-33.39zM413.65 308.80h19.08v2.35h-19.08zM413.65 311.10h38.16v2.45h-38.16zM413.65 313.50h57.24v2.35h-57.24zM413.65 315.80h62.01v1.95h-62.01zM413.65 317.70h81.09v5.85h-81.09zM413.65 323.50h76.32v4.65h-76.32zM413.65 328.10h81.09v1.75h-81.09zM413.65 329.80h38.16v4.65h-38.16zM413.65 334.40h62.01v2.05h-62.01zM413.65 336.40h33.39v2.75h-33.39zM413.65 339.10h38.16v1.75h-38.16zM413.65 351.60h4.77v1.95h-4.77z" fill="#48824a"/>
<path d="M413.65 390.30h9.54v1.25h-9.54zM413.65 396.50h4.77v1.35h-4.77zM413.65 399.60h33.39v1.55h-33.39zM413.65 401.10h14.31v1.45h-14.31zM413.65 402.50h57.24v1.75h-57.24zM413.65 404.20h71.55v1.75h-71.55zM413.65 405.90h66.78v1.35h-66.78zM413.65 407.20h100.17v1.25h-100.17zM413.65 408.40h52.47v1.65h-52.47zM413.65 410.00h66.78v1.75h-66.78zM413.65 411.70h71.55v1.45h-71.55zM413.65 413.10h81.09v1.85h-81.09zM413.65 414.90h52.47v1.65h-52.47zM413.65 416.50h47.70v1.55h-47.70zM413.65 418.00h38.16v2.75h-38.16zM413.65 420.70h42.93v1.45h-42.93zM413.65 422.10h19.08v2.85h-19.08zM413.65 429.60h4.77v1.75h-4.77zM413.65 434.40h9.54v1.55h-9.54z" fill="#d62426"/>
<rect x="66.4" y="22.5" width="317.70" height="157.25" fill="none" stroke="#222" stroke-width="1.65"/>
<rect x="413.7" y="21.6" width="105.60" height="157.70" fill="none" stroke="#222" stroke-width="1.65"/>
<rect x="66.4" y="252.35" width="317.70" height="218.45" fill="none" stroke="#222" stroke-width="1.65"/>
<rect x="413.65" y="252.4" width="105.65" height="218.40" fill="none" stroke="#222" stroke-width="1.65"/>
<text x="66.40" y="200.10" font-size="19.5" text-anchor="middle">0</text>
<path d="M115.23 179.75v-7.4M115.23 22.5v7.4" stroke="#222" stroke-width="1.65"/>
<text x="115.23" y="200.10" font-size="19.5" text-anchor="middle">2</text>
<path d="M164.07 179.75v-7.4M164.07 22.5v7.4" stroke="#222" stroke-width="1.65"/>
<text x="164.07" y="200.10" font-size="19.5" text-anchor="middle">4</text>
<path d="M212.90 179.75v-7.4M212.90 22.5v7.4" stroke="#222" stroke-width="1.65"/>
<text x="212.90" y="200.10" font-size="19.5" text-anchor="middle">6</text>
<path d="M261.74 179.75v-7.4M261.74 22.5v7.4" stroke="#222" stroke-width="1.65"/>
<text x="261.74" y="200.10" font-size="19.5" text-anchor="middle">8</text>
<path d="M310.57 179.75v-7.4M310.57 22.5v7.4" stroke="#222" stroke-width="1.65"/>
<text x="310.57" y="200.10" font-size="19.5" text-anchor="middle">10</text>
<path d="M359.40 179.75v-7.4M359.40 22.5v7.4" stroke="#222" stroke-width="1.65"/>
<text x="359.40" y="200.10" font-size="19.5" text-anchor="middle">12</text>
<text x="66.40" y="498.20" font-size="19.5" text-anchor="middle">0</text>
<path d="M115.23 470.8v-7.4M115.23 252.35v7.4" stroke="#222" stroke-width="1.65"/>
<text x="115.23" y="498.20" font-size="19.5" text-anchor="middle">2</text>
<path d="M164.07 470.8v-7.4M164.07 252.35v7.4" stroke="#222" stroke-width="1.65"/>
<text x="164.07" y="498.20" font-size="19.5" text-anchor="middle">4</text>
<path d="M212.90 470.8v-7.4M212.90 252.35v7.4" stroke="#222" stroke-width="1.65"/>
<text x="212.90" y="498.20" font-size="19.5" text-anchor="middle">6</text>
<path d="M261.74 470.8v-7.4M261.74 252.35v7.4" stroke="#222" stroke-width="1.65"/>
<text x="261.74" y="498.20" font-size="19.5" text-anchor="middle">8</text>
<path d="M310.57 470.8v-7.4M310.57 252.35v7.4" stroke="#222" stroke-width="1.65"/>
<text x="310.57" y="498.20" font-size="19.5" text-anchor="middle">10</text>
<path d="M359.40 470.8v-7.4M359.40 252.35v7.4" stroke="#222" stroke-width="1.65"/>
<text x="359.40" y="498.20" font-size="19.5" text-anchor="middle">12</text>
<path d="M66.4 74.60h7.4M384.1 74.60h-7.4" stroke="#222" stroke-width="1.65"/>
<text x="60.70" y="82.00" font-size="19.5" text-anchor="end">100</text>
<path d="M66.4 126.90h7.4M384.1 126.90h-7.4" stroke="#222" stroke-width="1.65"/>
<text x="60.70" y="134.30" font-size="19.5" text-anchor="end">90</text>
<path d="M413.7 74.60h8.4M519.3 74.60h-8.4" stroke="#222" stroke-width="1.65"/>
<path d="M413.7 126.90h8.4M519.3 126.90h-8.4" stroke="#222" stroke-width="1.65"/>
<path d="M66.4 296.00h7.4M384.1 296.00h-7.4" stroke="#222" stroke-width="1.65"/>
<text x="60.70" y="303.10" font-size="19.5" text-anchor="end">100</text>
<path d="M66.4 339.70h7.4M384.1 339.70h-7.4" stroke="#222" stroke-width="1.65"/>
<text x="60.70" y="346.80" font-size="19.5" text-anchor="end">80</text>
<path d="M66.4 383.40h7.4M384.1 383.40h-7.4" stroke="#222" stroke-width="1.65"/>
<text x="60.70" y="390.50" font-size="19.5" text-anchor="end">60</text>
<path d="M66.4 427.10h7.4M384.1 427.10h-7.4" stroke="#222" stroke-width="1.65"/>
<text x="60.70" y="434.20" font-size="19.5" text-anchor="end">40</text>
<path d="M413.65 296.00h8.4M519.3 296.00h-8.4" stroke="#222" stroke-width="1.65"/>
<path d="M413.65 339.70h8.4M519.3 339.70h-8.4" stroke="#222" stroke-width="1.65"/>
<path d="M413.65 383.40h8.4M519.3 383.40h-8.4" stroke="#222" stroke-width="1.65"/>
<path d="M413.65 427.10h8.4M519.3 427.10h-8.4" stroke="#222" stroke-width="1.65"/>
<path d="M505.05 179.3v-7.4M505.05 21.6v7.4" stroke="#222" stroke-width="1.65"/>
<text x="504.30" y="200.30" font-size="19.5" text-anchor="middle">20</text>
<text x="414.0" y="200.3" font-size="19.5" text-anchor="middle">0</text>
<path d="M509.30 470.8v-5.6M509.30 252.4v5.6" stroke="#222" stroke-width="1.65"/>
<text x="505.30" y="498.20" font-size="19.5" text-anchor="middle">20</text>
<text x="413.85" y="498.2" font-size="19.5" text-anchor="middle">0</text>
<text x="226.55" y="221.8" font-size="19.7" text-anchor="middle">Time (h)</text>
<text x="225.8" y="519.0" font-size="19.7" text-anchor="middle">Time (h)</text>
<text x="454.3" y="222.0" font-size="19.7" text-anchor="middle">Counts</text>
<text x="455.7" y="519.5" font-size="19.7" text-anchor="middle">Counts</text>
<text x="-0.6" y="15.5" font-size="19.5">(a)</text>
<text x="388.6" y="14.3" font-size="19.5">(b)</text>
<text x="-0.4" y="244.6" font-size="19.5">(c)</text>
<text x="388.3" y="244.9" font-size="19.5">(d)</text>
<text transform="translate(16.6,102.4) rotate(-90)" font-size="19.4" text-anchor="middle"><tspan font-style="italic">T</tspan><tspan font-size="10" dy="6.9">1</tspan><tspan dy="-6.9"> (µs)</tspan></text>
<text transform="translate(16.6,361.6) rotate(-90)" font-size="19.4" text-anchor="middle"><tspan font-style="italic">T</tspan><tspan font-size="10" dy="6.9">2</tspan><tspan dy="-6.9"> (µs)</tspan></text>
<rect x="246.9" y="431.5" width="121.8" height="24.7" fill="#fff" stroke="#222" stroke-width="1.5"/>
<circle cx="258.1" cy="442.15" r="4.6" fill="#d9262a"/>
<circle cx="329.9" cy="442.15" r="4.6" fill="#5aa550"/>
<text x="266.5" y="446.9" font-size="17.6"><tspan font-style="italic">T</tspan><tspan font-size="10.2" dy="6" dx="-0.5">2R</tspan></text>
<text x="338.5" y="446.9" font-size="17.6"><tspan font-style="italic">T</tspan><tspan font-size="10.2" dy="6" dx="-0.7">2e</tspan></text>
</svg>
</body></html>
